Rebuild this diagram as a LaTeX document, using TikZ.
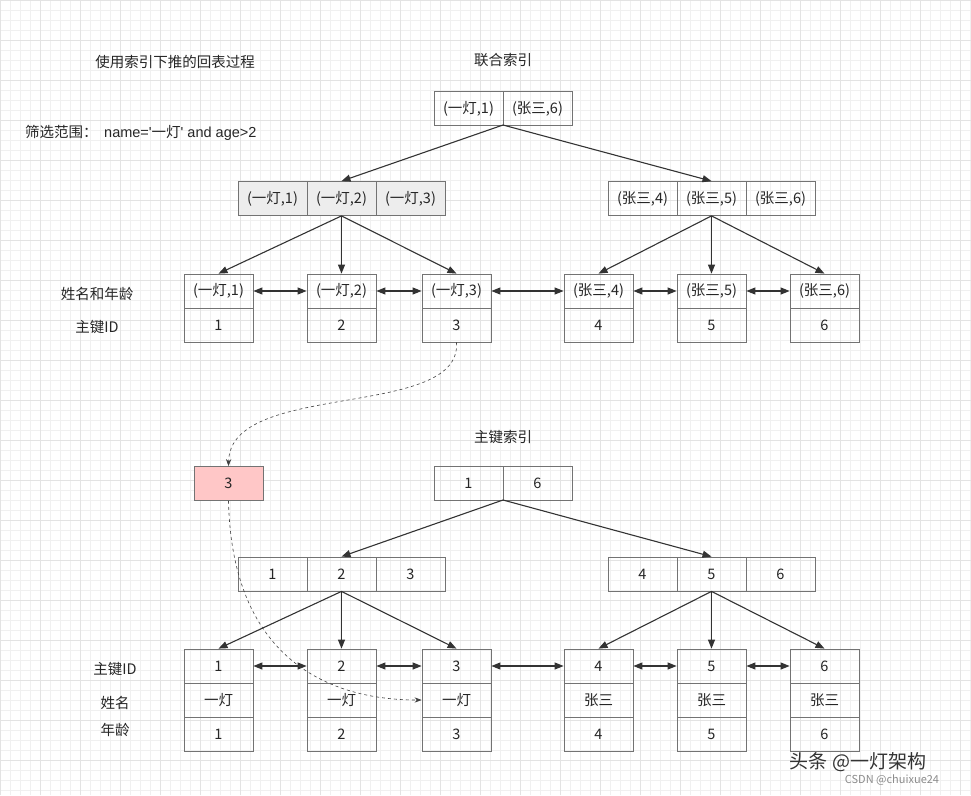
\documentclass[tikz,border=0pt]{standalone}
\usepackage{fontspec}
\setmainfont{Noto Sans CJK SC}
\newfontfamily\lat{Liberation Sans}
\usetikzlibrary{arrows.meta}
\begin{document}
\begin{tikzpicture}[x=1pt,y=-1pt,
 cell/.style={draw=black!55,line width=0.8pt,minimum width=69pt,minimum height=34pt,inner sep=0pt,font=\fontsize{14.5}{16}\selectfont,text=black!85},
 lbl/.style={font=\fontsize{14.5}{16}\selectfont,text=black!85,inner sep=0pt},
 arr/.style={-{Triangle[length=9pt,width=7pt]},line width=1.1pt,black!80},
 darr/.style={{Triangle[length=9pt,width=7pt]}-{Triangle[length=9pt,width=7pt]},line width=1.1pt,black!80},
 dsh/.style={-{Stealth[length=7pt]},dashed,black!75,line width=0.6pt}]
\useasboundingbox (0,0) rectangle (971,795);
\fill[white] (0,0) rectangle (971,795);
\draw[black!6,step=10pt] (0,0) grid (971,795);
\draw[black!11,step=40pt] (0,0) grid (971,795);
% titles
\node[lbl] (t1) at (175,62) {使用索引下推的回表过程};
\node[lbl,anchor=west] (t2) at (25,133) {筛选范围：\ \ {\lat name=\char39}一灯{\lat\char39{} and age>2}};
\node[lbl] (t3) at (503,60) {联合索引};
\node[lbl] (t4) at (503,437) {主键索引};
\node[lbl] (l1) at (97,294) {姓名和年龄};
\node[lbl] (l2) at (97,327) {主键ID};
\node[lbl] (l3) at (115,669) {主键ID};
\node[lbl] (l4) at (115,703) {姓名};
\node[lbl] (l5) at (115,730) {年龄};
% upper tree
\node[cell] (r1) at (468.5,108.5) {(一灯,1)};
\node[cell] (r2) at (537.5,108.5) {(张三,6)};
\node[cell,fill=black!7] (p1) at (272.5,198.5) {(一灯,1)};
\node[cell,fill=black!7] (p2) at (341.5,198.5) {(一灯,2)};
\node[cell,fill=black!7] (p3) at (410.5,198.5) {(一灯,3)};
\node[cell] (q1) at (642.5,198.5) {(张三,4)};
\node[cell] (q2) at (711.5,198.5) {(张三,5)};
\node[cell] (q3) at (780.5,198.5) {(张三,6)};
\foreach \i/\x/\a/\b in {1/218.5/一灯/1,2/341.5/一灯/2,3/456.5/一灯/3,4/598.5/张三/4,5/711.5/张三/5,6/824.5/张三/6}{
 \node[cell] (u\i) at (\x,291) {(\a,\b)};
 \node[cell] (v\i) at (\x,325) {\b};
}
\coordinate (rb) at (503,125);
\draw[arr] (rb) -- (p2.north);
\draw[arr] (rb) -- (q2.north);
\foreach \i in {1,2,3} \draw[arr] (p2.south) -- (u\i.north);
\foreach \i in {4,5,6} \draw[arr] (q2.south) -- (u\i.north);
\draw[darr] (u1) -- (u2); \draw[darr] (u2) -- (u3); \draw[darr] (u3) -- (u4);
\draw[darr] (u4) -- (u5); \draw[darr] (u5) -- (u6);
% lower tree
\node[cell,fill=red!22] (pk) at (228.5,483.5) {3};
\node[cell] (s1) at (468.5,483.5) {1};
\node[cell] (s2) at (537.5,483.5) {6};
\node[cell] (m1) at (272.5,574) {1};
\node[cell] (m2) at (341.5,574) {2};
\node[cell] (m3) at (410.5,574) {3};
\node[cell] (n1) at (642.5,574) {4};
\node[cell] (n2) at (711.5,574) {5};
\node[cell] (n3) at (780.5,574) {6};
\foreach \i/\x/\a in {1/218.5/一灯,2/341.5/一灯,3/456.5/一灯,4/598.5/张三,5/711.5/张三,6/824.5/张三}{
 \node[cell] (w\i) at (\x,666) {\i};
 \node[cell] (y\i) at (\x,700) {\a};
 \node[cell] (z\i) at (\x,734) {\i};
}
\coordinate (sb) at (503,500);
\draw[arr] (sb) -- (m2.north);
\draw[arr] (sb) -- (n2.north);
\foreach \i in {1,2,3} \draw[arr] (m2.south) -- (w\i.north);
\foreach \i in {4,5,6} \draw[arr] (n2.south) -- (w\i.north);
\draw[darr] (w1) -- (w2); \draw[darr] (w2) -- (w3); \draw[darr] (w3) -- (w4);
\draw[darr] (w4) -- (w5); \draw[darr] (w5) -- (w6);
% dashed lookups
\draw[dsh] (v3.south) .. controls (462,420) and (230,380) .. (pk.north);
\draw[dsh] (pk.south) .. controls (232,660) and (330,700) .. (y3.west);
% watermark
\node[lbl,font=\fontsize{19}{21}\selectfont,text=black!80] (wm) at (858,762) {头条 @一灯架构};
\node[lbl,font=\fontsize{11}{12}\selectfont,text=black!45] (wm2) at (892,780) {CSDN @chuixue24};
\end{tikzpicture}
\end{document}
